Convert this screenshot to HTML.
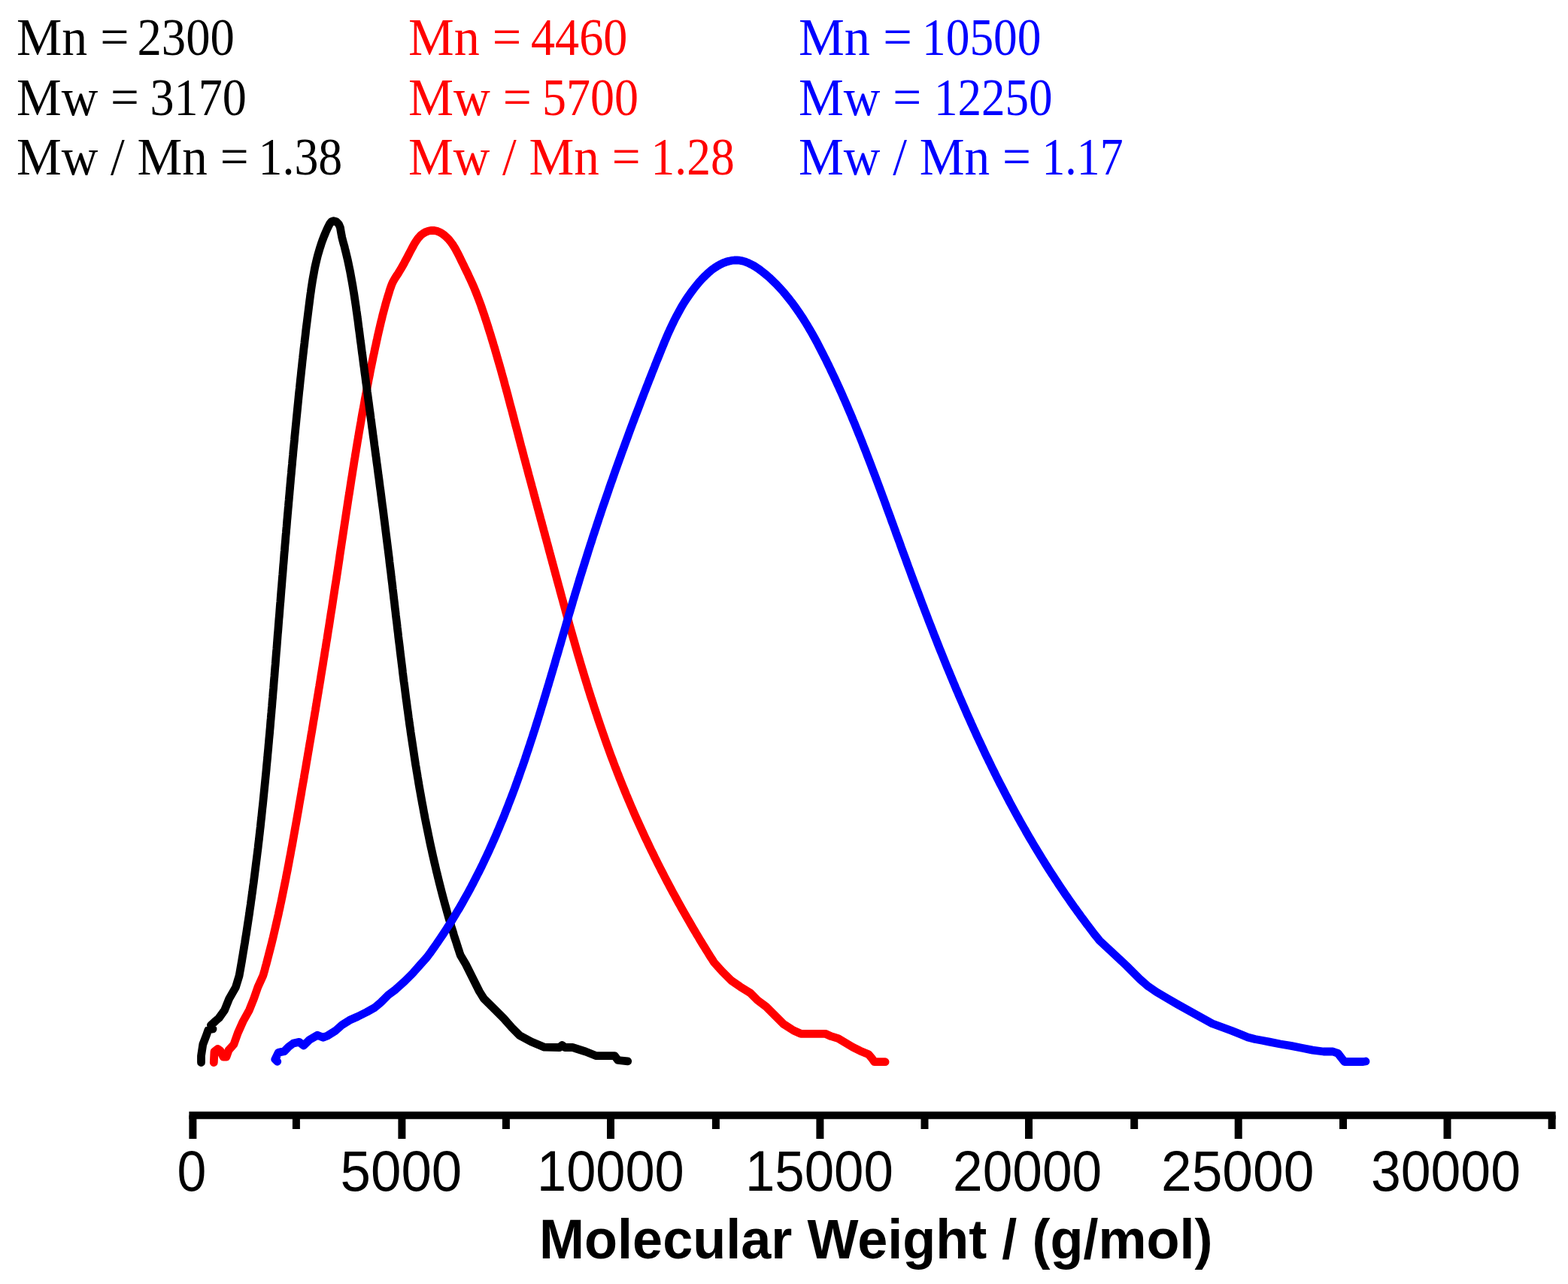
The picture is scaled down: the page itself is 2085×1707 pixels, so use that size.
<!DOCTYPE html>
<html><head><meta charset="utf-8"><title>GPC molecular weight distribution</title>
<style>
html,body{margin:0;padding:0;background:#fff;}
body{width:2085px;height:1707px;overflow:hidden;}
svg{display:block;}
text{white-space:pre;}
</style></head>
<body>
<svg width="2085" height="1707" viewBox="0 0 2085 1707">
<rect width="2085" height="1707" fill="#ffffff"/>
<g fill="none" stroke-width="10.8" stroke-linejoin="round" stroke-linecap="round">
<path stroke="#ff0000" d="M284.3 1412.5L285.0 1398.0L289.5 1394.5L293.0 1397.0L297.0 1405.0L301.0 1405.0L304.1 1396.1L310.9 1388.5L316.3 1373.3L323.1 1358.0L331.5 1342.8L337.6 1327.6L342.9 1312.3L349.8 1297.1L350.9 1293.2L352.0 1289.4L353.0 1285.5L354.1 1281.7L355.1 1277.8L356.1 1273.9L357.1 1270.1L358.1 1266.2L359.1 1262.3L360.1 1258.4L361.1 1254.6L362.0 1250.7L363.0 1246.8L363.9 1242.9L364.8 1239.0L365.7 1235.1L366.6 1231.2L367.5 1227.3L368.4 1223.4L369.3 1219.5L370.2 1215.6L371.0 1211.7L371.9 1207.7L372.7 1203.8L373.6 1199.9L374.4 1196.0L375.2 1192.1L376.0 1188.1L376.8 1184.2L377.6 1180.3L378.4 1176.4L379.2 1172.4L380.0 1168.5L380.7 1164.6L381.5 1160.6L382.3 1156.7L383.0 1152.8L383.8 1148.8L384.5 1144.9L385.2 1141.0L386.0 1137.0L386.7 1133.1L387.4 1129.1L388.2 1125.2L388.9 1121.3L389.6 1117.3L390.3 1113.4L391.0 1109.4L391.7 1105.5L392.4 1101.5L393.1 1097.6L393.8 1093.7L394.5 1089.7L395.2 1085.8L395.9 1081.8L396.6 1077.9L397.3 1073.9L397.9 1070.0L398.6 1066.1L399.3 1062.1L400.0 1058.2L400.7 1054.2L401.3 1050.3L402.0 1046.4L402.7 1042.4L403.4 1038.5L404.1 1034.6L404.7 1030.6L405.4 1026.7L406.1 1022.8L406.8 1018.8L407.4 1014.9L408.1 1010.9L408.8 1007.0L409.4 1003.1L410.1 999.1L410.8 995.2L411.4 991.3L412.1 987.3L412.8 983.4L413.4 979.5L414.1 975.5L414.8 971.6L415.4 967.7L416.1 963.7L416.7 959.8L417.4 955.9L418.1 951.9L418.7 948.0L419.4 944.1L420.0 940.1L420.7 936.2L421.3 932.3L422.0 928.3L422.6 924.4L423.3 920.5L423.9 916.5L424.6 912.6L425.2 908.7L425.9 904.7L426.5 900.8L427.1 896.9L427.8 892.9L428.4 889.0L429.1 885.0L429.7 881.1L430.3 877.2L431.0 873.2L431.6 869.3L432.2 865.3L432.9 861.4L433.5 857.5L434.1 853.5L434.8 849.6L435.4 845.6L436.0 841.7L436.6 837.8L437.3 833.8L437.9 829.9L438.5 825.9L439.1 822.0L439.7 818.0L440.3 814.1L441.0 810.1L441.6 806.2L442.2 802.2L442.8 798.3L443.4 794.3L444.0 790.4L444.6 786.4L445.2 782.5L445.8 778.5L446.5 774.5L447.1 770.6L447.7 766.6L448.3 762.7L448.9 758.7L449.5 754.7L450.1 750.8L450.7 746.8L451.3 742.8L451.8 738.9L452.4 734.9L453.0 730.9L453.6 727.0L454.2 723.0L454.8 719.0L455.4 715.1L456.0 711.1L456.6 707.1L457.2 703.2L457.8 699.2L458.4 695.2L459.0 691.2L459.6 687.3L460.2 683.3L460.8 679.3L461.4 675.4L462.0 671.4L462.6 667.4L463.2 663.4L463.8 659.5L464.5 655.5L465.1 651.5L465.7 647.6L466.3 643.6L466.9 639.6L467.5 635.7L468.2 631.7L468.8 627.7L469.4 623.7L470.1 619.8L470.7 615.8L471.3 611.8L472.0 607.9L472.6 603.9L473.3 600.0L473.9 596.0L474.6 592.0L475.2 588.1L475.9 584.1L476.6 580.2L477.2 576.2L477.9 572.2L478.6 568.3L479.3 564.3L480.0 560.4L480.6 556.4L481.3 552.5L482.0 548.5L482.8 544.6L483.5 540.6L484.2 536.7L484.9 532.8L485.6 528.8L486.4 524.9L487.1 520.9L487.8 517.0L488.6 513.1L489.4 509.1L490.1 505.2L490.9 501.3L491.7 497.4L492.4 493.4L493.2 489.5L494.0 485.6L494.8 481.7L495.6 477.8L496.4 473.8L497.3 469.9L498.1 466.0L498.9 462.1L499.8 458.2L500.6 454.3L501.5 450.4L502.3 446.5L503.2 442.6L504.1 438.8L505.0 434.9L505.9 431.0L506.8 427.1L507.8 423.3L508.7 419.4L509.7 415.6L510.7 411.8L511.8 407.9L512.8 404.1L513.9 400.3L515.0 396.6L516.1 392.8L517.3 389.1L518.4 385.3L519.7 381.6L521.0 378.0L522.7 374.3L524.8 370.6L527.1 367.0L529.5 363.4L531.7 359.8L533.8 356.3L535.8 352.8L537.7 349.3L539.5 345.8L541.4 342.3L543.2 338.9L545.0 335.4L546.8 332.0L548.6 328.6L550.5 325.1L552.5 321.7L554.7 318.4L557.1 315.4L559.8 312.6L562.9 310.2L566.3 308.3L570.0 307.0L573.8 306.4L577.5 306.5L581.2 307.3L584.7 308.7L588.0 310.7L591.2 313.0L594.2 315.7L597.0 318.6L599.5 321.8L601.9 325.0L604.0 328.3L606.0 331.8L607.9 335.3L609.7 338.8L611.5 342.4L613.2 346.0L615.0 349.6L616.8 353.2L618.5 356.9L620.3 360.5L622.1 364.2L623.8 367.9L625.5 371.5L627.2 375.2L628.9 379.0L630.5 382.7L632.0 386.4L633.5 390.1L635.0 393.9L636.4 397.6L637.8 401.4L639.2 405.2L640.5 408.9L641.8 412.7L643.1 416.5L644.4 420.3L645.6 424.1L646.9 427.9L648.1 431.7L649.3 435.5L650.5 439.3L651.7 443.1L652.9 446.9L654.0 450.7L655.2 454.5L656.3 458.3L657.5 462.1L658.6 465.9L659.7 469.7L660.8 473.6L661.9 477.4L663.0 481.2L664.1 485.0L665.2 488.9L666.3 492.7L667.3 496.5L668.4 500.4L669.5 504.2L670.5 508.0L671.5 511.9L672.6 515.7L673.6 519.6L674.7 523.4L675.7 527.3L676.7 531.1L677.7 535.0L678.7 538.8L679.8 542.7L680.8 546.5L681.8 550.4L682.8 554.2L683.8 558.1L684.8 562.0L685.8 565.8L686.9 569.7L687.9 573.6L688.9 577.4L689.9 581.3L690.9 585.2L691.9 589.0L692.9 592.9L694.0 596.8L695.0 600.6L696.0 604.5L697.0 608.4L698.1 612.3L699.1 616.1L700.1 620.0L701.2 623.9L702.2 627.8L703.2 631.7L704.3 635.5L705.3 639.4L706.4 643.3L707.4 647.2L708.5 651.0L709.5 654.9L710.5 658.8L711.6 662.7L712.6 666.6L713.7 670.5L714.7 674.3L715.8 678.2L716.8 682.1L717.9 686.0L718.9 689.9L720.0 693.7L721.0 697.6L722.1 701.5L723.1 705.4L724.2 709.3L725.2 713.2L726.3 717.0L727.3 720.9L728.4 724.8L729.4 728.7L730.4 732.6L731.5 736.4L732.5 740.3L733.6 744.2L734.6 748.1L735.7 751.9L736.7 755.8L737.8 759.7L738.8 763.6L739.9 767.4L740.9 771.3L742.0 775.2L743.0 779.0L744.1 782.9L745.1 786.8L746.2 790.7L747.2 794.5L748.3 798.4L749.3 802.2L750.4 806.1L751.5 810.0L752.5 813.8L753.6 817.7L754.7 821.5L755.8 825.4L756.8 829.3L757.9 833.1L759.0 837.0L760.1 840.8L761.2 844.7L762.3 848.5L763.4 852.3L764.5 856.2L765.6 860.0L766.7 863.9L767.8 867.7L768.9 871.5L770.1 875.4L771.2 879.2L772.3 883.0L773.5 886.9L774.6 890.7L775.8 894.5L776.9 898.3L778.1 902.2L779.3 906.0L780.5 909.8L781.6 913.6L782.8 917.4L784.0 921.2L785.2 925.0L786.4 928.8L787.7 932.6L788.9 936.4L790.1 940.2L791.4 944.0L792.6 947.8L793.9 951.6L795.1 955.4L796.4 959.1L797.7 962.9L799.0 966.7L800.3 970.5L801.6 974.2L802.9 978.0L804.2 981.8L805.5 985.5L806.9 989.3L808.2 993.0L809.6 996.8L810.9 1000.5L812.3 1004.3L813.7 1008.0L815.1 1011.7L816.5 1015.5L817.9 1019.2L819.4 1022.9L820.8 1026.7L822.3 1030.4L823.7 1034.1L825.2 1037.8L826.7 1041.5L828.2 1045.2L829.7 1048.9L831.2 1052.6L832.7 1056.3L834.3 1060.0L835.8 1063.7L837.4 1067.4L838.9 1071.0L840.5 1074.7L842.1 1078.4L843.7 1082.1L845.3 1085.7L847.0 1089.4L848.6 1093.0L850.3 1096.7L851.9 1100.3L853.6 1104.0L855.3 1107.6L856.9 1111.2L858.6 1114.9L860.4 1118.5L862.1 1122.1L863.8 1125.7L865.5 1129.3L867.3 1132.9L869.1 1136.5L870.8 1140.1L872.6 1143.7L874.4 1147.3L876.2 1150.9L878.0 1154.4L879.8 1158.0L881.7 1161.6L883.5 1165.1L885.4 1168.7L887.2 1172.2L889.1 1175.8L891.0 1179.3L892.9 1182.8L894.7 1186.4L896.7 1189.9L898.6 1193.4L900.5 1196.9L902.4 1200.4L904.4 1203.9L906.3 1207.4L908.3 1210.9L910.3 1214.4L912.3 1217.9L914.3 1221.4L916.3 1224.8L918.3 1228.3L920.3 1231.7L922.3 1235.2L924.4 1238.6L926.4 1242.1L928.5 1245.5L930.5 1248.9L932.6 1252.4L934.7 1255.8L936.8 1259.2L938.9 1262.6L941.0 1266.0L943.1 1269.4L945.2 1272.8L947.4 1276.1L949.5 1279.5L960.3 1291.5L972.3 1303.5L984.3 1311.8L990.0 1315.3L997.7 1320.1L1007.3 1329.7L1018.8 1338.4L1030.3 1349.9L1041.8 1361.4L1055.2 1370.0L1064.8 1374.3L1097.4 1374.3L1105.1 1377.7L1114.7 1380.6L1124.3 1386.3L1133.9 1392.1L1143.5 1396.9L1155.0 1401.7L1159.8 1407.4L1162.7 1411.7L1177.1 1411.7"/>
<path stroke="#000000" d="M267.5 1412.5L267.5 1403.7L269.8 1388.5L274.4 1376.3L277.0 1369.0L283.0 1368.0L280.5 1363.0L287.0 1357.0L291.1 1353.5L298.7 1342.8L304.8 1327.6L313.5 1312.3L318.1 1297.1L318.8 1293.1L319.5 1289.2L320.2 1285.2L320.9 1281.3L321.6 1277.3L322.2 1273.4L322.9 1269.4L323.5 1265.5L324.2 1261.5L324.8 1257.6L325.5 1253.6L326.1 1249.6L326.7 1245.7L327.4 1241.7L328.0 1237.8L328.6 1233.8L329.2 1229.9L329.8 1225.9L330.4 1222.0L331.0 1218.0L331.6 1214.1L332.1 1210.1L332.7 1206.2L333.3 1202.2L333.8 1198.2L334.4 1194.3L334.9 1190.3L335.5 1186.4L336.0 1182.4L336.5 1178.5L337.1 1174.5L337.6 1170.5L338.1 1166.6L338.6 1162.6L339.1 1158.6L339.6 1154.7L340.1 1150.7L340.6 1146.8L341.1 1142.8L341.6 1138.8L342.1 1134.9L342.6 1130.9L343.1 1126.9L343.5 1122.9L344.0 1119.0L344.5 1115.0L344.9 1111.0L345.4 1107.0L345.8 1103.1L346.3 1099.1L346.7 1095.1L347.1 1091.1L347.6 1087.2L348.0 1083.2L348.4 1079.2L348.8 1075.2L349.3 1071.2L349.7 1067.2L350.1 1063.2L350.5 1059.2L350.9 1055.3L351.3 1051.3L351.7 1047.3L352.1 1043.3L352.5 1039.3L352.9 1035.3L353.3 1031.3L353.7 1027.3L354.1 1023.3L354.4 1019.3L354.8 1015.3L355.2 1011.3L355.6 1007.3L355.9 1003.3L356.3 999.3L356.7 995.3L357.0 991.3L357.4 987.3L357.7 983.3L358.1 979.3L358.5 975.3L358.8 971.3L359.2 967.3L359.5 963.3L359.8 959.3L360.2 955.2L360.5 951.2L360.9 947.2L361.2 943.2L361.6 939.2L361.9 935.2L362.2 931.2L362.6 927.2L362.9 923.2L363.2 919.2L363.6 915.2L363.9 911.2L364.2 907.2L364.5 903.2L364.9 899.2L365.2 895.2L365.5 891.2L365.8 887.2L366.2 883.2L366.5 879.2L366.8 875.2L367.1 871.2L367.4 867.2L367.8 863.2L368.1 859.2L368.4 855.2L368.7 851.3L369.0 847.3L369.3 843.3L369.7 839.3L370.0 835.3L370.3 831.3L370.6 827.3L370.9 823.3L371.3 819.4L371.6 815.4L371.9 811.4L372.2 807.4L372.5 803.4L372.9 799.5L373.2 795.5L373.5 791.5L373.8 787.5L374.1 783.6L374.5 779.6L374.8 775.6L375.1 771.7L375.4 767.7L375.8 763.7L376.1 759.8L376.4 755.8L376.7 751.8L377.1 747.8L377.4 743.9L377.7 739.9L378.0 735.9L378.4 732.0L378.7 728.0L379.0 724.1L379.4 720.1L379.7 716.1L380.0 712.2L380.4 708.2L380.7 704.2L381.1 700.2L381.4 696.3L381.7 692.3L382.1 688.3L382.4 684.4L382.8 680.4L383.1 676.4L383.5 672.5L383.8 668.5L384.2 664.5L384.5 660.5L384.9 656.6L385.2 652.6L385.6 648.6L385.9 644.6L386.3 640.6L386.6 636.7L387.0 632.7L387.4 628.7L387.7 624.7L388.1 620.7L388.5 616.7L388.8 612.7L389.2 608.7L389.6 604.7L389.9 600.8L390.3 596.8L390.7 592.8L391.1 588.7L391.5 584.7L391.8 580.7L392.2 576.7L392.6 572.7L393.0 568.7L393.4 564.7L393.8 560.7L394.2 556.6L394.6 552.6L395.0 548.6L395.4 544.6L395.8 540.5L396.2 536.5L396.6 532.5L397.0 528.4L397.4 524.4L397.8 520.3L398.3 516.3L398.7 512.3L399.1 508.2L399.5 504.2L400.0 500.1L400.4 496.1L400.8 492.1L401.3 488.0L401.7 484.0L402.1 479.9L402.6 475.9L403.0 471.9L403.5 467.8L403.9 463.8L404.4 459.8L404.9 455.8L405.3 451.8L405.8 447.8L406.3 443.7L406.7 439.7L407.2 435.7L407.7 431.8L408.2 427.8L408.7 423.8L409.2 419.8L409.7 415.8L410.2 411.9L410.7 407.9L411.2 404.0L411.7 400.0L412.2 396.1L412.7 392.2L413.3 388.3L413.8 384.4L414.4 380.5L415.0 376.6L415.6 372.7L416.3 368.8L417.0 365.0L417.7 361.1L418.4 357.3L419.2 353.4L420.1 349.6L421.0 345.8L421.9 342.0L422.9 338.2L424.0 334.5L425.1 330.7L426.3 327.0L427.5 323.2L428.8 319.5L430.2 315.8L431.7 312.1L433.2 308.5L434.8 304.8L436.6 301.2L438.4 297.6L440.6 294.8L443.4 293.6L447.1 294.7L450.5 298.0L452.4 302.5L453.2 307.3L454.0 311.8L454.8 315.9L455.8 319.8L456.8 323.6L457.9 327.3L458.8 331.1L459.8 334.9L460.7 338.7L461.6 342.5L462.5 346.3L463.3 350.1L464.1 354.0L464.9 357.8L465.7 361.7L466.4 365.6L467.1 369.5L467.8 373.4L468.5 377.3L469.2 381.3L469.8 385.2L470.5 389.1L471.1 393.1L471.7 397.1L472.3 401.0L472.9 405.0L473.5 409.0L474.0 413.0L474.6 416.9L475.1 420.9L475.7 424.9L476.2 428.9L476.7 432.9L477.2 436.9L477.8 440.9L478.3 444.9L478.8 448.9L479.3 452.9L479.9 456.9L480.4 460.9L480.9 464.9L481.4 468.9L482.0 472.9L482.5 476.9L483.0 480.9L483.5 484.9L484.1 488.8L484.6 492.8L485.1 496.8L485.7 500.8L486.2 504.8L486.7 508.8L487.3 512.7L487.8 516.7L488.3 520.7L488.9 524.7L489.4 528.6L489.9 532.6L490.5 536.6L491.0 540.6L491.5 544.5L492.1 548.5L492.6 552.5L493.1 556.5L493.7 560.4L494.2 564.4L494.7 568.4L495.3 572.3L495.8 576.3L496.3 580.3L496.9 584.2L497.4 588.2L497.9 592.2L498.5 596.1L499.0 600.1L499.5 604.1L500.1 608.0L500.6 612.0L501.1 615.9L501.7 619.9L502.2 623.9L502.7 627.8L503.2 631.8L503.8 635.8L504.3 639.7L504.8 643.7L505.3 647.6L505.9 651.6L506.4 655.6L506.9 659.5L507.4 663.5L507.9 667.5L508.4 671.4L509.0 675.4L509.5 679.4L510.0 683.3L510.5 687.3L511.0 691.2L511.5 695.2L512.0 699.2L512.5 703.1L513.0 707.1L513.5 711.1L514.0 715.0L514.5 719.0L515.0 723.0L515.5 727.0L516.0 730.9L516.5 734.9L517.0 738.9L517.5 742.8L517.9 746.8L518.4 750.8L518.9 754.8L519.4 758.7L519.9 762.7L520.3 766.7L520.8 770.7L521.3 774.6L521.8 778.6L522.2 782.6L522.7 786.6L523.2 790.6L523.6 794.5L524.1 798.5L524.6 802.5L525.0 806.5L525.5 810.5L526.0 814.4L526.4 818.4L526.9 822.4L527.4 826.4L527.9 830.4L528.3 834.3L528.8 838.3L529.3 842.3L529.7 846.3L530.2 850.3L530.7 854.2L531.2 858.2L531.7 862.2L532.1 866.2L532.6 870.2L533.1 874.2L533.6 878.1L534.1 882.1L534.6 886.1L535.1 890.1L535.5 894.1L536.0 898.0L536.5 902.0L537.0 906.0L537.6 910.0L538.1 913.9L538.6 917.9L539.1 921.9L539.6 925.9L540.1 929.8L540.7 933.8L541.2 937.8L541.7 941.8L542.3 945.7L542.8 949.7L543.3 953.7L543.9 957.6L544.4 961.6L545.0 965.6L545.6 969.5L546.1 973.5L546.7 977.5L547.3 981.4L547.9 985.4L548.5 989.4L549.1 993.3L549.7 997.3L550.3 1001.2L550.9 1005.2L551.5 1009.2L552.1 1013.1L552.7 1017.1L553.4 1021.0L554.0 1025.0L554.7 1028.9L555.3 1032.9L556.0 1036.8L556.6 1040.8L557.3 1044.7L558.0 1048.7L558.7 1052.6L559.4 1056.5L560.1 1060.5L560.8 1064.4L561.5 1068.3L562.3 1072.3L563.0 1076.2L563.7 1080.1L564.5 1084.1L565.2 1088.0L566.0 1091.9L566.8 1095.8L567.6 1099.8L568.4 1103.7L569.2 1107.6L570.0 1111.5L570.8 1115.4L571.6 1119.3L572.4 1123.2L573.3 1127.2L574.2 1131.1L575.0 1135.0L575.9 1138.9L576.8 1142.8L577.7 1146.7L578.6 1150.5L579.5 1154.4L580.4 1158.3L581.4 1162.2L582.3 1166.1L583.3 1170.0L584.2 1173.9L585.2 1177.7L586.2 1181.6L587.2 1185.5L588.2 1189.4L589.2 1193.2L590.3 1197.1L591.3 1201.0L592.4 1204.8L593.5 1208.7L594.5 1212.5L595.6 1216.4L596.7 1220.2L597.9 1224.1L599.0 1227.9L600.1 1231.8L601.3 1235.6L602.5 1239.4L603.6 1243.3L604.8 1247.1L606.1 1250.9L607.3 1254.7L608.5 1258.6L609.8 1262.4L611.0 1266.2L612.3 1270.0L619.4 1282.0L625.4 1294.0L631.4 1306.0L637.4 1318.0L643.4 1327.6L657.8 1341.9L669.8 1353.9L680.7 1366.3L690.8 1376.4L706.6 1385.0L723.9 1392.2L744.0 1392.5L747.6 1389.5L751.0 1392.5L761.3 1392.5L778.6 1398.0L793.0 1403.7L817.4 1403.7L821.7 1409.5L834.7 1410.9"/>
<path stroke="#0000ff" d="M368.8 1411.3L365.8 1408.3L370.3 1399.2L378.0 1397.6L384.0 1391.5L390.1 1387.0L397.8 1385.4L403.8 1390.0L411.5 1382.4L422.1 1376.3L429.7 1379.3L436.0 1376.7L445.6 1370.7L455.2 1362.3L464.8 1356.3L475.6 1351.5L487.6 1345.5L498.3 1339.5L506.7 1332.4L516.3 1322.8L525.9 1315.6L537.9 1304.8L548.7 1294.0L558.3 1283.2L567.9 1272.4L570.3 1269.1L572.7 1265.9L575.0 1262.6L577.4 1259.3L579.7 1256.0L582.0 1252.7L584.3 1249.3L586.5 1246.0L588.8 1242.6L591.0 1239.3L593.2 1235.9L595.3 1232.5L597.5 1229.2L599.6 1225.8L601.7 1222.4L603.8 1219.0L605.9 1215.5L607.9 1212.1L610.0 1208.7L612.0 1205.2L614.0 1201.8L615.9 1198.3L617.9 1194.8L619.8 1191.4L621.8 1187.9L623.7 1184.4L625.6 1180.9L627.4 1177.3L629.3 1173.8L631.1 1170.3L632.9 1166.8L634.7 1163.2L636.5 1159.7L638.3 1156.1L640.1 1152.5L641.8 1149.0L643.5 1145.4L645.2 1141.8L646.9 1138.2L648.6 1134.6L650.3 1131.0L651.9 1127.4L653.6 1123.7L655.2 1120.1L656.8 1116.5L658.4 1112.8L660.0 1109.2L661.5 1105.5L663.1 1101.9L664.6 1098.2L666.1 1094.5L667.7 1090.9L669.2 1087.2L670.7 1083.5L672.1 1079.8L673.6 1076.1L675.1 1072.4L676.5 1068.7L677.9 1065.0L679.4 1061.2L680.8 1057.5L682.2 1053.8L683.6 1050.1L685.0 1046.3L686.3 1042.6L687.7 1038.8L689.0 1035.1L690.4 1031.3L691.7 1027.5L693.0 1023.8L694.4 1020.0L695.7 1016.2L697.0 1012.5L698.3 1008.7L699.5 1004.9L700.8 1001.1L702.1 997.3L703.3 993.5L704.6 989.7L705.8 985.9L707.1 982.1L708.3 978.3L709.5 974.5L710.8 970.7L712.0 966.8L713.2 963.0L714.4 959.2L715.6 955.4L716.8 951.5L718.0 947.7L719.1 943.9L720.3 940.0L721.5 936.2L722.7 932.4L723.8 928.5L725.0 924.7L726.1 920.8L727.3 917.0L728.4 913.1L729.6 909.3L730.7 905.4L731.9 901.6L733.0 897.7L734.2 893.9L735.3 890.0L736.4 886.2L737.6 882.3L738.7 878.4L739.8 874.6L741.0 870.7L742.1 866.9L743.2 863.0L744.3 859.2L745.5 855.3L746.6 851.4L747.7 847.6L748.8 843.7L750.0 839.9L751.1 836.0L752.2 832.1L753.3 828.3L754.5 824.4L755.6 820.6L756.7 816.7L757.9 812.8L759.0 809.0L760.2 805.1L761.3 801.3L762.4 797.4L763.6 793.6L764.7 789.7L765.9 785.9L767.1 782.0L768.2 778.2L769.4 774.3L770.5 770.5L771.7 766.7L772.9 762.8L774.1 759.0L775.3 755.2L776.5 751.3L777.7 747.5L778.9 743.7L780.1 739.8L781.3 736.0L782.5 732.2L783.7 728.4L784.9 724.6L786.2 720.8L787.4 716.9L788.6 713.1L789.9 709.3L791.1 705.5L792.4 701.7L793.6 697.9L794.9 694.1L796.1 690.3L797.4 686.5L798.7 682.7L799.9 678.9L801.2 675.1L802.5 671.3L803.8 667.6L805.1 663.8L806.4 660.0L807.7 656.2L809.0 652.4L810.3 648.6L811.6 644.9L812.9 641.1L814.3 637.3L815.6 633.5L816.9 629.8L818.2 626.0L819.6 622.2L820.9 618.5L822.3 614.7L823.6 611.0L825.0 607.2L826.3 603.4L827.7 599.7L829.1 595.9L830.4 592.2L831.8 588.4L833.2 584.7L834.6 580.9L835.9 577.2L837.3 573.4L838.7 569.7L840.1 565.9L841.5 562.2L842.9 558.5L844.3 554.7L845.7 551.0L847.1 547.3L848.6 543.5L850.0 539.8L851.4 536.1L852.8 532.3L854.3 528.6L855.7 524.9L857.1 521.2L858.6 517.5L860.0 513.7L861.5 510.0L862.9 506.3L864.4 502.6L865.9 498.9L867.3 495.2L868.8 491.4L870.3 487.7L871.7 484.0L873.2 480.3L874.7 476.6L876.2 472.9L877.7 469.2L879.2 465.5L880.7 461.8L882.2 458.1L883.7 454.4L885.3 450.8L886.8 447.1L888.4 443.4L890.1 439.8L891.7 436.2L893.4 432.6L895.2 429.0L896.9 425.4L898.7 421.8L900.6 418.3L902.5 414.8L904.4 411.3L906.4 407.8L908.5 404.3L910.6 400.9L912.8 397.5L915.1 394.1L917.4 390.8L919.8 387.5L922.3 384.2L924.8 381.0L927.4 377.8L930.1 374.6L932.9 371.5L935.8 368.5L938.8 365.6L941.8 362.8L944.9 360.1L948.1 357.6L951.4 355.3L954.8 353.2L958.2 351.3L961.7 349.6L965.3 348.3L969.0 347.2L972.6 346.4L976.3 346.0L979.9 345.9L983.5 346.2L987.1 346.9L990.6 347.9L994.1 349.2L997.5 350.8L1000.9 352.5L1004.3 354.5L1007.6 356.7L1010.8 359.0L1014.0 361.5L1017.2 364.0L1020.3 366.6L1023.4 369.3L1026.4 372.1L1029.3 375.0L1032.3 377.9L1035.1 380.9L1037.9 383.9L1040.7 387.0L1043.4 390.1L1046.0 393.3L1048.6 396.5L1051.1 399.7L1053.6 402.9L1056.0 406.2L1058.4 409.5L1060.7 412.8L1063.0 416.1L1065.2 419.4L1067.4 422.8L1069.5 426.1L1071.6 429.5L1073.7 432.9L1075.7 436.4L1077.8 439.8L1079.7 443.2L1081.7 446.7L1083.6 450.2L1085.5 453.7L1087.4 457.2L1089.2 460.7L1091.0 464.2L1092.8 467.7L1094.6 471.2L1096.4 474.8L1098.2 478.3L1099.9 481.9L1101.7 485.5L1103.4 489.0L1105.1 492.6L1106.8 496.2L1108.5 499.8L1110.2 503.4L1111.9 507.0L1113.5 510.6L1115.2 514.2L1116.8 517.9L1118.5 521.5L1120.1 525.1L1121.7 528.8L1123.3 532.4L1124.9 536.1L1126.5 539.7L1128.0 543.4L1129.6 547.1L1131.2 550.7L1132.7 554.4L1134.2 558.1L1135.8 561.8L1137.3 565.5L1138.8 569.2L1140.3 572.9L1141.8 576.6L1143.3 580.3L1144.8 584.0L1146.3 587.7L1147.7 591.5L1149.2 595.2L1150.7 598.9L1152.1 602.6L1153.6 606.4L1155.0 610.1L1156.5 613.9L1157.9 617.6L1159.3 621.4L1160.7 625.1L1162.2 628.9L1163.6 632.6L1165.0 636.4L1166.4 640.1L1167.8 643.9L1169.2 647.7L1170.6 651.4L1172.0 655.2L1173.4 659.0L1174.8 662.7L1176.2 666.5L1177.6 670.3L1178.9 674.1L1180.3 677.8L1181.7 681.6L1183.1 685.4L1184.5 689.2L1185.8 693.0L1187.2 696.7L1188.6 700.5L1190.0 704.3L1191.3 708.1L1192.7 711.9L1194.1 715.7L1195.5 719.4L1196.9 723.2L1198.2 727.0L1199.6 730.8L1201.0 734.6L1202.4 738.3L1203.8 742.1L1205.2 745.9L1206.5 749.7L1207.9 753.5L1209.3 757.2L1210.7 761.0L1212.1 764.8L1213.5 768.6L1214.9 772.3L1216.3 776.1L1217.7 779.9L1219.1 783.6L1220.6 787.4L1222.0 791.2L1223.4 794.9L1224.8 798.7L1226.2 802.5L1227.7 806.2L1229.1 810.0L1230.5 813.7L1232.0 817.5L1233.4 821.2L1234.8 825.0L1236.3 828.7L1237.8 832.5L1239.2 836.2L1240.7 840.0L1242.1 843.7L1243.6 847.4L1245.1 851.2L1246.5 854.9L1248.0 858.6L1249.5 862.4L1251.0 866.1L1252.5 869.8L1254.0 873.5L1255.5 877.3L1257.0 881.0L1258.5 884.7L1260.0 888.4L1261.6 892.1L1263.1 895.8L1264.6 899.5L1266.2 903.2L1267.7 906.9L1269.3 910.6L1270.8 914.3L1272.4 918.0L1274.0 921.7L1275.5 925.4L1277.1 929.0L1278.7 932.7L1280.3 936.4L1281.9 940.0L1283.5 943.7L1285.1 947.4L1286.7 951.0L1288.4 954.7L1290.0 958.3L1291.6 962.0L1293.3 965.6L1294.9 969.3L1296.6 972.9L1298.2 976.5L1299.9 980.2L1301.6 983.8L1303.3 987.4L1305.0 991.0L1306.7 994.6L1308.4 998.2L1310.1 1001.9L1311.8 1005.5L1313.6 1009.0L1315.3 1012.6L1317.1 1016.2L1318.8 1019.8L1320.6 1023.4L1322.4 1027.0L1324.1 1030.5L1325.9 1034.1L1327.7 1037.7L1329.5 1041.2L1331.4 1044.8L1333.2 1048.3L1335.0 1051.8L1336.9 1055.4L1338.7 1058.9L1340.6 1062.4L1342.4 1066.0L1344.3 1069.5L1346.2 1073.0L1348.1 1076.5L1350.0 1080.0L1351.9 1083.5L1353.9 1087.0L1355.8 1090.5L1357.7 1093.9L1359.7 1097.4L1361.7 1100.9L1363.7 1104.3L1365.6 1107.8L1367.6 1111.2L1369.6 1114.7L1371.7 1118.1L1373.7 1121.6L1375.7 1125.0L1377.8 1128.4L1379.8 1131.8L1381.9 1135.2L1384.0 1138.6L1386.1 1142.0L1388.2 1145.4L1390.3 1148.8L1392.5 1152.2L1394.6 1155.6L1396.7 1158.9L1398.9 1162.3L1401.1 1165.6L1403.3 1169.0L1405.5 1172.3L1407.7 1175.7L1409.9 1179.0L1412.1 1182.3L1414.4 1185.6L1416.6 1188.9L1418.9 1192.2L1421.2 1195.5L1423.5 1198.8L1425.8 1202.1L1428.1 1205.4L1430.5 1208.6L1432.8 1211.9L1435.2 1215.1L1437.5 1218.4L1439.9 1221.6L1442.3 1224.8L1444.7 1228.1L1447.2 1231.3L1449.6 1234.5L1452.1 1237.7L1454.5 1240.9L1457.0 1244.1L1459.5 1247.2L1462.0 1250.4L1480.0 1267.1L1497.9 1283.9L1515.9 1301.9L1525.5 1310.3L1537.5 1318.7L1551.9 1327.1L1566.3 1335.5L1587.9 1347.5L1611.8 1360.7L1637.0 1370.0L1649.6 1375.0L1659.2 1379.0L1668.8 1381.5L1678.4 1383.2L1688.0 1385.1L1702.4 1388.0L1716.7 1390.4L1731.1 1393.2L1745.5 1396.1L1759.9 1398.0L1772.4 1398.0L1779.1 1400.4L1787.7 1411.5L1812.7 1411.5L1816.0 1411.0"/>
</g>
<g stroke="#000" stroke-width="10" stroke-linecap="butt" fill="none">
<line x1="256.4" y1="1482.7" x2="2063.6" y2="1482.7" stroke-linecap="square"/>
<line x1="256.4" y1="1482.7" x2="256.4" y2="1514"/>
<line x1="393.9" y1="1482.7" x2="393.9" y2="1501"/>
<line x1="534.4" y1="1482.7" x2="534.4" y2="1514"/>
<line x1="672.9" y1="1482.7" x2="672.9" y2="1501"/>
<line x1="812.0" y1="1482.7" x2="812.0" y2="1514"/>
<line x1="951.9" y1="1482.7" x2="951.9" y2="1501"/>
<line x1="1090.4" y1="1482.7" x2="1090.4" y2="1514"/>
<line x1="1229.5" y1="1482.7" x2="1229.5" y2="1501"/>
<line x1="1368.0" y1="1482.7" x2="1368.0" y2="1514"/>
<line x1="1508.2" y1="1482.7" x2="1508.2" y2="1501"/>
<line x1="1646.7" y1="1482.7" x2="1646.7" y2="1514"/>
<line x1="1786.0" y1="1482.7" x2="1786.0" y2="1501"/>
<line x1="1924.5" y1="1482.7" x2="1924.5" y2="1514"/>
<line x1="2063.6" y1="1482.7" x2="2063.6" y2="1501"/>
</g>
<text id="sk0a" x="22.00" y="73.40" fill="#000000" font-family='"Liberation Serif","Times New Roman",serif' font-size="70.50" textLength="149.53" lengthAdjust="spacingAndGlyphs">Mn =</text>
<text id="sk0b" x="182.50" y="73.40" fill="#000000" font-family='"Liberation Serif","Times New Roman",serif' font-size="70.50" textLength="129.40" lengthAdjust="spacingAndGlyphs">2300</text>
<text id="sk1a" x="22.00" y="153.10" fill="#000000" font-family='"Liberation Serif","Times New Roman",serif' font-size="70.50" textLength="162.78" lengthAdjust="spacingAndGlyphs">Mw =</text>
<text id="sk1b" x="199.50" y="153.10" fill="#000000" font-family='"Liberation Serif","Times New Roman",serif' font-size="70.50" textLength="128.40" lengthAdjust="spacingAndGlyphs">3170</text>
<text id="sk2a" x="22.00" y="232.10" fill="#000000" font-family='"Liberation Serif","Times New Roman",serif' font-size="70.50" textLength="308.57" lengthAdjust="spacingAndGlyphs">Mw / Mn =</text>
<text id="sk2b" x="343.50" y="232.10" fill="#000000" font-family='"Liberation Serif","Times New Roman",serif' font-size="70.50" textLength="111.77" lengthAdjust="spacingAndGlyphs">1.38</text>
<text id="sr0a" x="543.00" y="73.40" fill="#ff0000" font-family='"Liberation Serif","Times New Roman",serif' font-size="70.50" textLength="150.33" lengthAdjust="spacingAndGlyphs">Mn =</text>
<text id="sr0b" x="706.00" y="73.40" fill="#ff0000" font-family='"Liberation Serif","Times New Roman",serif' font-size="70.50" textLength="128.40" lengthAdjust="spacingAndGlyphs">4460</text>
<text id="sr1a" x="543.00" y="153.10" fill="#ff0000" font-family='"Liberation Serif","Times New Roman",serif' font-size="70.50" textLength="163.78" lengthAdjust="spacingAndGlyphs">Mw =</text>
<text id="sr1b" x="721.00" y="153.10" fill="#ff0000" font-family='"Liberation Serif","Times New Roman",serif' font-size="70.50" textLength="128.00" lengthAdjust="spacingAndGlyphs">5700</text>
<text id="sr2a" x="543.00" y="232.10" fill="#ff0000" font-family='"Liberation Serif","Times New Roman",serif' font-size="70.50" textLength="308.57" lengthAdjust="spacingAndGlyphs">Mw / Mn =</text>
<text id="sr2b" x="865.50" y="232.10" fill="#ff0000" font-family='"Liberation Serif","Times New Roman",serif' font-size="70.50" textLength="111.18" lengthAdjust="spacingAndGlyphs">1.28</text>
<text id="sb0a" x="1062.00" y="73.40" fill="#0000ff" font-family='"Liberation Serif","Times New Roman",serif' font-size="70.50" textLength="150.73" lengthAdjust="spacingAndGlyphs">Mn =</text>
<text id="sb0b" x="1226.00" y="73.40" fill="#0000ff" font-family='"Liberation Serif","Times New Roman",serif' font-size="70.50" textLength="158.45" lengthAdjust="spacingAndGlyphs">10500</text>
<text id="sb1a" x="1062.00" y="153.10" fill="#0000ff" font-family='"Liberation Serif","Times New Roman",serif' font-size="70.50" textLength="163.18" lengthAdjust="spacingAndGlyphs">Mw =</text>
<text id="sb1b" x="1242.00" y="153.10" fill="#0000ff" font-family='"Liberation Serif","Times New Roman",serif' font-size="70.50" textLength="157.65" lengthAdjust="spacingAndGlyphs">12250</text>
<text id="sb2a" x="1062.00" y="232.10" fill="#0000ff" font-family='"Liberation Serif","Times New Roman",serif' font-size="70.50" textLength="308.97" lengthAdjust="spacingAndGlyphs">Mw / Mn =</text>
<text id="sb2b" x="1385.50" y="232.10" fill="#0000ff" font-family='"Liberation Serif","Times New Roman",serif' font-size="70.50" textLength="107.98" lengthAdjust="spacingAndGlyphs">1.17</text>
<text id="l0" x="235.50" y="1582.60" fill="#000000" font-family='"Liberation Sans",Arial,sans-serif' font-size="75.50" textLength="38.80" lengthAdjust="spacingAndGlyphs">0</text>
<text id="l5000" x="452.50" y="1582.60" fill="#000000" font-family='"Liberation Sans",Arial,sans-serif' font-size="75.50" textLength="161.77" lengthAdjust="spacingAndGlyphs">5000</text>
<text id="l10000" x="714.00" y="1582.60" fill="#000000" font-family='"Liberation Sans",Arial,sans-serif' font-size="75.50" textLength="195.75" lengthAdjust="spacingAndGlyphs">10000</text>
<text id="l15000" x="991.00" y="1582.60" fill="#000000" font-family='"Liberation Sans",Arial,sans-serif' font-size="75.50" textLength="196.75" lengthAdjust="spacingAndGlyphs">15000</text>
<text id="l20000" x="1267.00" y="1582.60" fill="#000000" font-family='"Liberation Sans",Arial,sans-serif' font-size="75.50" textLength="198.15" lengthAdjust="spacingAndGlyphs">20000</text>
<text id="l25000" x="1544.00" y="1582.60" fill="#000000" font-family='"Liberation Sans",Arial,sans-serif' font-size="75.50" textLength="203.35" lengthAdjust="spacingAndGlyphs">25000</text>
<text id="l30000" x="1823.00" y="1582.60" fill="#000000" font-family='"Liberation Sans",Arial,sans-serif' font-size="75.50" textLength="198.95" lengthAdjust="spacingAndGlyphs">30000</text>
<text id="title" x="717.00" y="1672.90" fill="#000000" font-family='"Liberation Sans",Arial,sans-serif' font-size="74.00" font-weight="bold" textLength="895.55" lengthAdjust="spacingAndGlyphs">Molecular Weight / (g/mol)</text>
</svg>
</body></html>
